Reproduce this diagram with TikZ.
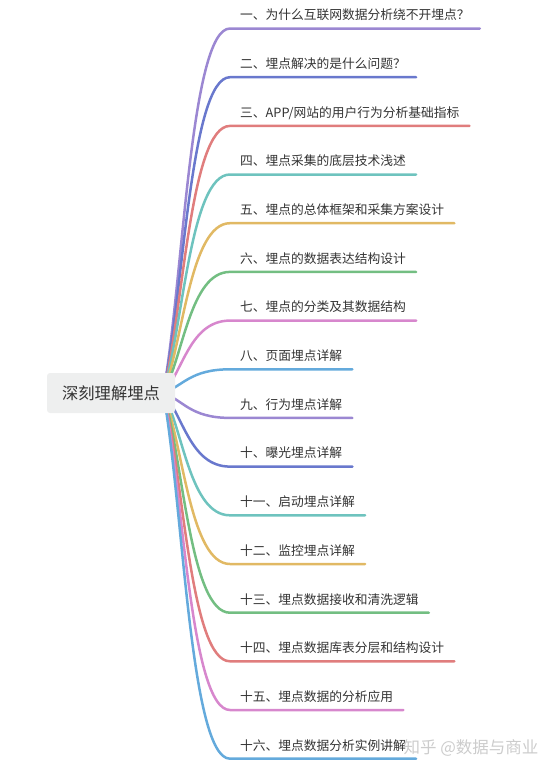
\documentclass[tikz,border=0pt]{standalone}
\usepackage{fontspec}
\usetikzlibrary{backgrounds}
\newfontfamily\cjk{Noto Sans CJK SC}
\definecolor{cpurple}{RGB}{155,135,210}
\definecolor{cindigo}{RGB}{105,120,205}
\definecolor{cred}{RGB}{224,125,125}
\definecolor{cteal}{RGB}{110,195,190}
\definecolor{cgold}{RGB}{225,185,100}
\definecolor{cgreen}{RGB}{115,190,130}
\definecolor{cpink}{RGB}{215,135,205}
\definecolor{cblue}{RGB}{100,170,220}
\definecolor{rootgray}{RGB}{238,239,239}
\definecolor{textgray}{RGB}{51,51,51}
\begin{document}
\begin{tikzpicture}[x=1pt,y=-1pt,
  root/.style={fill=rootgray,rounded corners=3pt,minimum width=128pt,minimum height=40pt,
    text=textgray,font=\cjk\fontsize{16.3}{18}\selectfont},
  topic/.style={anchor=south west,inner xsep=10pt,inner ysep=6pt,text height=11pt,text depth=2.5pt,
    text=textgray,font=\cjk\fontsize{12.75}{15}\selectfont},
  branch/.style={line width=2.5pt,line cap=round},
  wmark/.style={text=black!20,font=\cjk\fontsize{16.5}{18}\selectfont}]
\useasboundingbox (0,0) rectangle (553,772);

\node[root] (root) at (111,393) {深刻理解埋点};
\coordinate (hub) at ([xshift=-12pt]root.east);

\node[topic] (t1) at (230,28.5) {一、为什么互联网数据分析绕不开埋点？};
\node[topic] (t2) at (230,77.2) {二、埋点解决的是什么问题？};
\node[topic] (t3) at (230,125.9) {三、APP/网站的用户行为分析基础指标};
\node[topic] (t4) at (230,174.5) {四、埋点采集的底层技术浅述};
\node[topic] (t5) at (230,223.2) {五、埋点的总体框架和采集方案设计};
\node[topic] (t6) at (230,271.9) {六、埋点的数据表达结构设计};
\node[topic] (t7) at (230,320.6) {七、埋点的分类及其数据结构};
\node[topic] (t8) at (230,369.3) {八、页面埋点详解};
\node[topic] (t9) at (230,417.9) {九、行为埋点详解};
\node[topic] (t10) at (230,466.6) {十、曝光埋点详解};
\node[topic] (t11) at (230,515.3) {十一、启动埋点详解};
\node[topic] (t12) at (230,564.0) {十二、监控埋点详解};
\node[topic] (t13) at (230,612.7) {十三、埋点数据接收和清洗逻辑};
\node[topic] (t14) at (230,661.3) {十四、埋点数据库表分层和结构设计};
\node[topic] (t15) at (230,710.0) {十五、埋点数据的分析应用};
\node[topic] (t16) at (230,758.7) {十六、埋点数据分析实例讲解};

\begin{scope}[on background layer]
\draw[branch,cpurple] (hub) .. controls +(20,-109) and +(-40,0) .. (t1.south west) -- (t1.south east);
\draw[branch,cindigo] (hub) .. controls +(20,-95) and +(-40,0) .. (t2.south west) -- (t2.south east);
\draw[branch,cred] (hub) .. controls +(20,-80) and +(-40,0) .. (t3.south west) -- (t3.south east);
\draw[branch,cteal] (hub) .. controls +(20,-66) and +(-40,0) .. (t4.south west) -- (t4.south east);
\draw[branch,cgold] (hub) .. controls +(20,-51) and +(-40,0) .. (t5.south west) -- (t5.south east);
\draw[branch,cgreen] (hub) .. controls +(20,-36) and +(-40,0) .. (t6.south west) -- (t6.south east);
\draw[branch,cpink] (hub) .. controls +(20,-22) and +(-40,0) .. (t7.south west) -- (t7.south east);
\draw[branch,cblue] (hub) .. controls +(20,-7) and +(-40,0) .. (t8.south west) -- (t8.south east);
\draw[branch,cpurple] (hub) .. controls +(20,7) and +(-40,0) .. (t9.south west) -- (t9.south east);
\draw[branch,cindigo] (hub) .. controls +(20,22) and +(-40,0) .. (t10.south west) -- (t10.south east);
\draw[branch,cteal] (hub) .. controls +(20,37) and +(-40,0) .. (t11.south west) -- (t11.south east);
\draw[branch,cgold] (hub) .. controls +(20,51) and +(-40,0) .. (t12.south west) -- (t12.south east);
\draw[branch,cgreen] (hub) .. controls +(20,66) and +(-40,0) .. (t13.south west) -- (t13.south east);
\draw[branch,cred] (hub) .. controls +(20,80) and +(-40,0) .. (t14.south west) -- (t14.south east);
\draw[branch,cpink] (hub) .. controls +(20,95) and +(-40,0) .. (t15.south west) -- (t15.south east);
\draw[branch,cblue] (hub) .. controls +(20,110) and +(-40,0) .. (t16.south west) -- (t16.south east);
\end{scope}

\node[wmark] (wm) at (471,748) {知乎 @数据与商业};
\end{tikzpicture}
\end{document}
